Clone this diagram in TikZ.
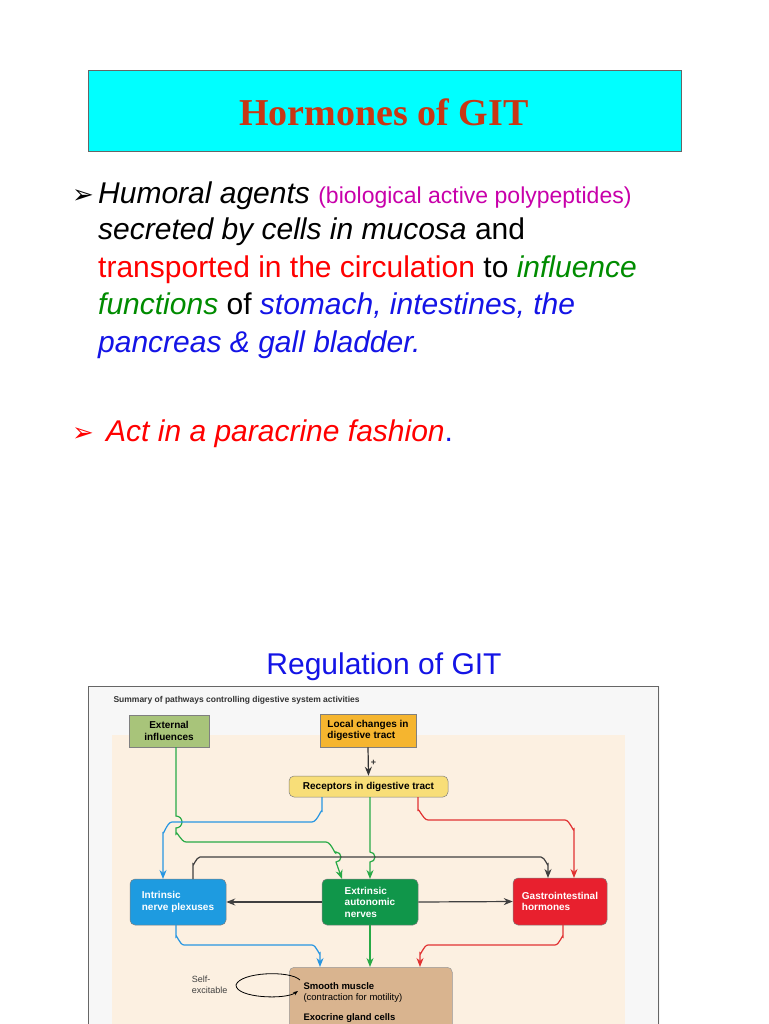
\documentclass[tikz,border=0pt]{standalone}
\usepackage{fontspec}
\setmainfont{Liberation Sans}
\newfontfamily\timesf{Liberation Serif}
\newfontfamily\djv{DejaVu Sans}
\usetikzlibrary{arrows.meta,positioning}
\definecolor{titlered}{RGB}{200,55,20}
\definecolor{cyanbg}{RGB}{0,255,255}
\definecolor{mag}{RGB}{200,0,170}
\definecolor{grn}{RGB}{0,140,0}
\definecolor{blu}{RGB}{20,20,230}
\definecolor{extg}{RGB}{168,196,122}
\definecolor{locor}{RGB}{245,181,47}
\definecolor{recy}{RGB}{248,222,120}
\definecolor{intb}{RGB}{30,155,224}
\definecolor{extrg}{RGB}{16,150,74}
\definecolor{gir}{RGB}{232,32,46}
\definecolor{smt}{RGB}{217,180,143}
\definecolor{lgreen}{RGB}{40,170,70}
\definecolor{lblue}{RGB}{40,150,225}
\definecolor{lred}{RGB}{225,50,50}
\definecolor{peach}{RGB}{252,240,225}
\tikzset{
 body/.style={anchor=base west,font=\fontsize{30}{34}\selectfont,inner sep=0},
 dbox/.style={draw=black!50,line width=0.5pt,minimum width=#1,inner sep=2pt,align=left,font=\fontsize{10}{11.5}\selectfont\bfseries},
 rbox/.style={dbox=#1,rounded corners=5pt},
 con/.style={line width=1.2pt,-{Stealth[length=9pt,width=7pt]}}
}
\begin{document}
\begin{tikzpicture}[x=1pt,y=-1pt]
\useasboundingbox (0,0) rectangle (768,1024);
\fill[white] (0,0) rectangle (768,1024);
% title
\node[draw=black!60,fill=cyanbg,minimum width=593,minimum height=81,anchor=north west,inner sep=0] (title) at (88,70) {};
\node[font=\timesf\bfseries\fontsize{38}{42}\selectfont,text=titlered] (tt) at (384,112) {Hormones of GIT};
% bullets
\node[body,font=\djv\bfseries\fontsize{26}{28}\selectfont] (b1) at (72,204) {➢};
\node[body] (l1) at (98,204) {\textit{Humoral agents} {\color{mag}\fontsize{23}{26}\selectfont (biological active polypeptides)}};
\node[body] (l2) at (98,240) {\textit{secreted by cells in mucosa} and};
\node[body] (l3) at (98,277) {{\color{red}transported in the circulation} to {\color{grn}\itshape influence}};
\node[body] (l4) at (98,314) {{\color{grn}\itshape functions} of {\color{blu}\itshape stomach, intestines, the}};
\node[body] (l5) at (98,352) {{\color{blu}\itshape pancreas \& gall bladder.}};
\node[body,font=\djv\bfseries\fontsize{26}{28}\selectfont,text=red] (b2) at (72,441) {➢};
\node[body,text=red] (l6) at (106,441) {\textit{Act in a paracrine fashion}{\color{blu}.}};
\node[font=\fontsize{30}{34}\selectfont,text=blu] (reg) at (384,667) {Regulation of GIT};
% diagram frame
\begin{scope}
\clip (88,686) rectangle (660,1024);
\fill[black!3] (88,686) rectangle (660,1030);
\fill[peach] (112,735) rectangle (625,1030);
\draw[black!60,line width=0.8pt] (88,686) rectangle (658,1030);
\node[anchor=west,font=\fontsize{8.5}{10}\selectfont\bfseries,text=black!80] (cap) at (110,700) {Summary of pathways controlling digestive system activities};
\node[dbox=80pt,fill=extg,minimum height=32,align=center] (ext) at (169,731) {External\\influences};
\node[dbox=96pt,fill=locor,minimum height=33] (loc) at (368,730.5) {Local changes in\\digestive tract};
\node[rbox=159pt,fill=recy,minimum height=21,align=center] (rec) at (368.5,786.5) {Receptors in digestive tract};
\node[rbox=96pt,fill=intb,minimum height=46,text=white] (int) at (178,902) {Intrinsic\\nerve plexuses};
\node[rbox=96pt,fill=extrg,minimum height=46,text=white] (exn) at (370,902) {Extrinsic\\autonomic\\nerves};
\node[rbox=94pt,fill=gir,minimum height=47,text=white] (gih) at (560,901.5) {Gastrointestinal\\hormones};
\node[rbox=163pt,fill=smt,minimum height=80,anchor=north west,draw=black!40] (sm) at (289,967) {};
\node[anchor=north west,align=left,font=\fontsize{9.5}{11}\selectfont] (smt) at (300,979) {\textbf{Smooth muscle}\\(contraction for motility)\\[9pt]\textbf{Exocrine gland cells}};
\node[anchor=east,align=left,font=\fontsize{9}{10.5}\selectfont,text=black!75] (se) at (231,985) {Self-\\excitable};
\coordinate (se1) at (298,991);
\draw[line width=0.8pt,-{Stealth[length=5pt]}] (300,980) .. controls (290,970) and (240,972) .. (236,985) .. controls (236,998) and (285,1000) .. (se1);
% connectors
\draw[con,black!80] (loc.south) -- (rec.north) node[pos=0.55,right,font=\bfseries\small,inner sep=2pt] {+};
\draw[con,lgreen] (176,747) -- (176,816) arc[start angle=-90,end angle=90,radius=6] -- (176,834) to[out=90,in=180] (186,842) -- (326,842) to[out=0,in=-90] (336,852) arc[start angle=-90,end angle=90,radius=5] -- (342,879);
\draw[con,lblue] (322,797) -- (322,812) to[out=90,in=0] (312,822) -- (172,822) to[out=180,in=-90] (163,832) -- (163,879);
\draw[con,lgreen] (370,797) -- (370,852) arc[start angle=-90,end angle=90,radius=5] -- (370,879);
\draw[con,lred] (418,797) -- (418,811) to[out=90,in=180] (428,820) -- (565,820) to[out=0,in=-90] (574,829) -- (574,878);
\draw[con,black!75] (193,879) -- (193,864) to[out=-90,in=180] (200,857) -- (541,857) to[out=0,in=-90] (548,864) -- (548,878);
\draw[con,black!75] (exn.west) -- (int.east);
\draw[con,black!75] (exn.east) -- (gih.west);
\draw[con,lblue] (176,925) -- (176,937) to[out=90,in=180] (184,945) -- (312,945) to[out=0,in=-90] (320,953) -- (320,967);
\draw[con,lgreen] (exn.south) -- (370,967);
\draw[con,lred] (563,925) -- (563,937) to[out=90,in=0] (555,945) -- (428,945) to[out=180,in=-90] (420,953) -- (420,967);
\end{scope}
\end{tikzpicture}
\end{document}
